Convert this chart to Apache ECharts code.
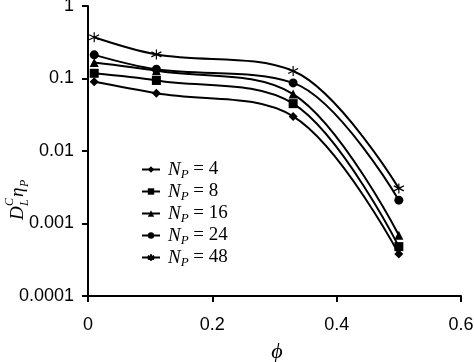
<!DOCTYPE html>
<html><head><meta charset="utf-8">
<script src="https://cdn.jsdelivr.net/npm/echarts@6/dist/echarts.min.js"></script>
<style>html,body{margin:0;padding:0;background:#fff}#c{width:474px;height:362px}</style>
</head><body><div id="c"></div>
<script>
const phi = [0.01, 0.11, 0.33, 0.5];
const np4  = [0.090, 0.0625, 0.030, 0.00038];
const np8  = [0.118, 0.094, 0.045, 0.00048];
const np16 = [0.166, 0.128, 0.061, 0.00069];
const np24 = [0.212, 0.134, 0.087, 0.0021];
const np48 = [0.37, 0.215, 0.127, 0.00305];
const seriesLabels = ['4', '8', '16', '24', '48'];
const xTicks = ['0', '0.2', '0.4', '0.6'];
const yTicks = ['0.0001', '0.001', '0.01', '0.1', '1'];

const star = 'path://M0,-1L0,1M-0.87,-0.5L0.87,0.5M-0.87,0.5L0.87,-0.5';
const symbols = ['diamond', 'rect', 'triangle', 'circle', star];
const sizes = [9, 9, 9, 9, 10];
const all = [np4, np8, np16, np24, np48];

const chart = echarts.init(document.getElementById('c'));
const series = all.map((vals, i) => ({
  name: 'N' + seriesLabels[i],
  type: 'line',
  smooth: 0.35,
  data: phi.map((x, j) => [x, vals[j]]),
  symbol: symbols[i],
  symbolSize: sizes[i],
  showSymbol: true,
  lineStyle: {color: '#000', width: 2},
  itemStyle: i === 4 ? {color: 'none', borderColor: '#000', borderWidth: 1.2} : {color: '#000', borderColor: '#000', borderWidth: 0},
  emphasis: {disabled: true}
}));

chart.setOption({
  animation: false,
  backgroundColor: '#fff',
  grid: {left: 88, right: 13, top: 6, bottom: 66, containLabel: false, outerBoundsMode: 'none'},
  xAxis: {
    type: 'value', min: 0, max: 0.6, interval: 0.2,
    axisLine: {lineStyle: {color: '#000', width: 2}},
    axisTick: {show: true, length: 6, lineStyle: {color: '#000', width: 2}},
    splitLine: {show: false},
    axisLabel: {color: '#000', fontSize: 18, fontFamily: 'Liberation Sans', margin: 20,
      formatter: v => xTicks[Math.round(v / 0.2)]},
    name: 'ϕ', nameLocation: 'middle', nameGap: 45,
    nameTextStyle: {fontFamily: 'Liberation Serif', fontStyle: 'italic', fontSize: 22, color: '#000', padding: [0, 0, 0, 5]}
  },
  yAxis: {
    type: 'log', logBase: 10, min: 0.0001, max: 1,
    axisLine: {show: true, lineStyle: {color: '#000', width: 2}},
    axisTick: {show: true, length: 6, lineStyle: {color: '#000', width: 2}},
    minorTick: {show: false},
    splitLine: {show: false},
    axisLabel: {color: '#000', fontSize: 18, fontFamily: 'Liberation Sans', margin: 14,
      formatter: v => yTicks[Math.round(Math.log10(v)) + 4]}
  },
  legend: {
    orient: 'vertical', left: 136, top: 155, itemGap: 1,
    itemWidth: 18, itemHeight: 8,
    data: series.map(s => s.name),
    formatter: name => '{n|N}{p|P}{e| = ' + name.slice(1) + '}',
    textStyle: {
      color: '#000',
      padding: [0, 0, 0, 3],
      rich: {
        n: {fontFamily: 'Liberation Serif', fontStyle: 'italic', fontSize: 19, color: '#000'},
        p: {fontFamily: 'Liberation Serif', fontStyle: 'italic', fontSize: 13, color: '#000', verticalAlign: 'bottom', padding: [10, 0, 0, 0]},
        e: {fontFamily: 'Liberation Serif', fontSize: 19, color: '#000'}
      }
    }
  },
  graphic: [{
    type: 'group', x: 18, y: 194, rotation: Math.PI / 2,
    children: [
      {type: 'text', x: -26, y: 0, style: {text: 'D', font: 'italic 19px Liberation Serif', fill: '#000', textVerticalAlign: 'middle'}},
      {type: 'text', x: -12, y: -8, style: {text: 'C', font: 'italic 12px Liberation Serif', fill: '#000', textVerticalAlign: 'middle'}},
      {type: 'text', x: -12, y: 7, style: {text: 'L', font: 'italic 12px Liberation Serif', fill: '#000', textVerticalAlign: 'middle'}},
      {type: 'text', x: -3, y: 0, style: {text: 'η', font: 'italic 19px Liberation Serif', fill: '#000', textVerticalAlign: 'middle'}},
      {type: 'text', x: 7, y: 7, style: {text: 'P', font: 'italic 12px Liberation Serif', fill: '#000', textVerticalAlign: 'middle'}}
    ]
  }],
  series: series
});
</script></body></html>
